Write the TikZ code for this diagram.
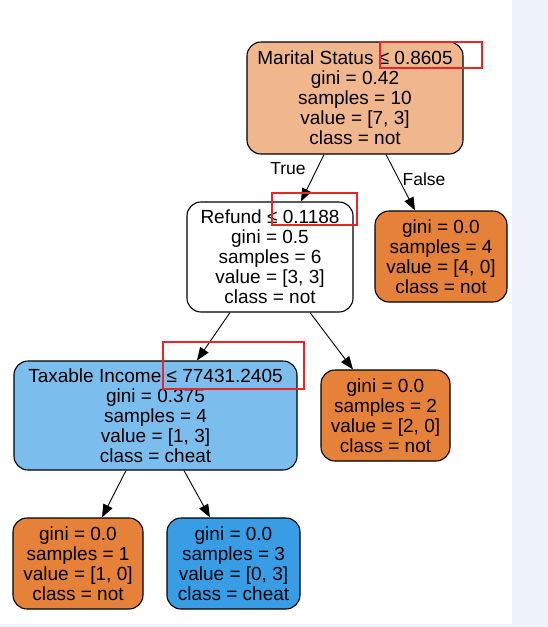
\documentclass[tikz,border=0pt]{standalone}
\usepackage{fontspec}
\setmainfont{Liberation Sans}
\usetikzlibrary{arrows.meta}
\definecolor{rootfill}{HTML}{F0B78E}
\definecolor{leaforange}{HTML}{E58139}
\definecolor{leafblue}{HTML}{399DE5}
\definecolor{midblue}{HTML}{7BBEEE}
\definecolor{panel}{HTML}{EEF2FA}
\definecolor{mark}{HTML}{E8262A}
\tikzset{
  treebox/.style={draw=black, line width=1.1pt, rounded corners=14pt, inner sep=0pt,
    align=center, font=\fontsize{19}{20}\selectfont},
  edge/.style={line width=0.9pt, -{Triangle[length=13pt,width=10pt]}},
  edgelabel/.style={font=\fontsize{17.5}{20}\selectfont, inner sep=0pt},
  markbox/.style={draw=mark, line width=1.6pt}
}
\begin{document}
\begin{tikzpicture}[x=1pt,y=-1pt]
\useasboundingbox (0,0) rectangle (548,627);
\fill[white] (0,0) rectangle (548,627);
\fill[panel] (512,0) rectangle (548,627);
\fill[panel] (0,624) rectangle (548,627);

\node[treebox, fill=rootfill, minimum width=216pt, minimum height=112pt] (root) at (355,98)
  {Marital Status ≤ 0.8605\\gini = 0.42\\samples = 10\\value = [7, 3]\\class = not};
\node[treebox, fill=white, minimum width=166pt, minimum height=110pt] (refund) at (270,257)
  {Refund ≤ 0.1188\\gini = 0.5\\samples = 6\\value = [3, 3]\\class = not};
\node[treebox, fill=leaforange, minimum width=132pt, minimum height=91pt] (leafA) at (441,256.5)
  {gini = 0.0\\samples = 4\\value = [4, 0]\\class = not};
\node[treebox, fill=midblue, minimum width=283pt, minimum height=109pt] (taxable) at (155.5,415.5)
  {Taxable Income ≤ 77431.2405\\gini = 0.375\\samples = 4\\value = [1, 3]\\class = cheat};
\node[treebox, fill=leaforange, minimum width=129pt, minimum height=91pt] (leafB) at (385.5,415.5)
  {gini = 0.0\\samples = 2\\value = [2, 0]\\class = not};
\node[treebox, fill=leaforange, minimum width=130pt, minimum height=91pt] (leafC) at (78,563.5)
  {gini = 0.0\\samples = 1\\value = [1, 0]\\class = not};
\node[treebox, fill=leafblue, minimum width=133pt, minimum height=91pt] (leafD) at (233.5,563.5)
  {gini = 0.0\\samples = 3\\value = [0, 3]\\class = cheat};

\draw[edge] ([xshift=-31pt]root.south) -- ([xshift=31pt]refund.north);
\draw[edge] ([xshift=31pt]root.south) -- ([xshift=-26pt]leafA.north);
\draw[edge] ([xshift=-40pt]refund.south) -- ([xshift=41.5pt]taxable.north);
\draw[edge] ([xshift=40pt]refund.south) -- ([xshift=-32.5pt]leafB.north);
\draw[edge] ([xshift=-29.5pt]taxable.south) -- ([xshift=24pt]leafC.north);
\draw[edge] ([xshift=28.5pt]taxable.south) -- ([xshift=-23.5pt]leafD.north);

\node[edgelabel] (truelbl) at (288,169) {True};
\node[edgelabel] (falselbl) at (424,179) {False};

\draw[markbox] (380,42) rectangle (482,68);
\draw[markbox] (272,193) rectangle (357,225);
\draw[markbox] (163,342) rectangle (304,389);
\end{tikzpicture}
\end{document}
